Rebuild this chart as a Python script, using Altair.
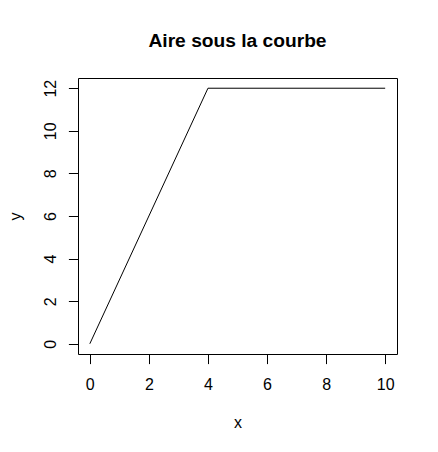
import altair as alt
import pandas as pd

xs = [0, 4, 10]
ys = [0, 12, 12]
x_ticks = [0, 2, 4, 6, 8, 10]
y_ticks = [0, 2, 4, 6, 8, 10, 12]

df = pd.DataFrame({"x": xs, "y": ys})
FONT = "Liberation Sans"

chart = alt.Chart(df).mark_line(color="black", strokeWidth=1).encode(
    x=alt.X("x:Q", scale=alt.Scale(domain=[-0.4, 10.4], nice=False, zero=False),
            axis=alt.Axis(values=x_ticks, title="x", grid=False, domain=False,
                          tickColor="black", tickSize=9.6, tickWidth=1,
                          labelFont=FONT, labelFontSize=16, labelColor="black",
                          labelBaseline="alphabetic", labelPadding=25.7,
                          titleFont=FONT, titleFontSize=16, titleFontWeight="normal",
                          titleColor="black", titleBaseline="alphabetic",
                          titleX=159.5, titleY=73.7, titleAnchor="middle")),
    y=alt.Y("y:Q", scale=alt.Scale(domain=[-0.48, 12.48], nice=False, zero=False),
            axis=alt.Axis(values=y_ticks, title="y", grid=False, domain=False,
                          tickColor="black", tickSize=9.6, tickWidth=1,
                          labelFont=FONT, labelFontSize=16, labelColor="black",
                          labelAngle=270, labelAlign="center", labelBaseline="alphabetic",
                          labelPadding=13.4,
                          titleFont=FONT, titleFontSize=16, titleFontWeight="normal",
                          titleColor="black", titleAngle=270, titleAlign="center",
                          titleBaseline="alphabetic", titleX=-57.5, titleY=138)),
    order=alt.Order("x:Q"),
).properties(
    width=319,
    height=276,
    title=alt.TitleParams("Aire sous la courbe", font=FONT, fontSize=19.2,
                          fontWeight="bold", color="black", anchor="middle",
                          baseline="alphabetic", offset=11.6),
    autosize=alt.AutoSizeParams(type="none"),
    padding={"left": 70, "top": 70, "right": 33, "bottom": 90},
).configure(
    background="white",
    view=alt.ViewConfig(stroke="black", strokeWidth=1),
)

chart.save("out.html", embed_options={"renderer": "svg", "actions": False})
